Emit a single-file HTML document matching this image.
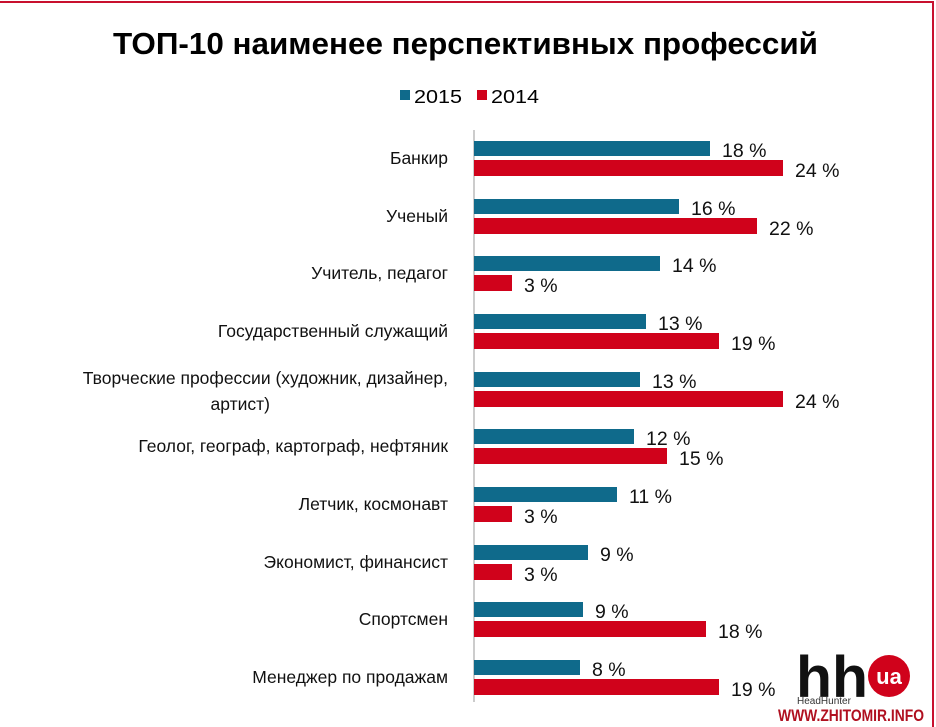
<!DOCTYPE html>
<html><head><meta charset="utf-8"><style>
body{margin:0;background:#fff}
svg{display:block}
text{font-family:"Liberation Sans","DejaVu Sans",sans-serif}
</style></head><body>
<svg width="936" height="727" viewBox="0 0 936 727" xmlns="http://www.w3.org/2000/svg">
<rect width="936" height="727" fill="#fff"/>
<line x1="0" y1="2" x2="934" y2="2" stroke="#c8102e" stroke-width="2"/>
<line x1="933" y1="2" x2="933" y2="727" stroke="#c8102e" stroke-width="2"/>
<text x="113" y="54" font-size="31" font-weight="bold" textLength="705" lengthAdjust="spacingAndGlyphs" fill="#000">ТОП-10 наименее перспективных профессий</text>
<rect x="400" y="90" width="10" height="10" fill="#0f6a8b"/>
<text x="414" y="103" font-size="18" fill="#000" textLength="48" lengthAdjust="spacingAndGlyphs">2015</text>
<rect x="477" y="90" width="10" height="10" fill="#d0021b"/>
<text x="491" y="103" font-size="18" fill="#000" textLength="48" lengthAdjust="spacingAndGlyphs">2014</text>
<line x1="474" y1="130" x2="474" y2="702" stroke="#999" stroke-width="1"/>
<g font-size="17.5" fill="#111" text-anchor="end">
<text x="448" y="164">Банкир</text>
<text x="448" y="222">Ученый</text>
<text x="448" y="279">Учитель, педагог</text>
<text x="448" y="337">Государственный служащий</text>
<text x="448" y="384">Творческие профессии (художник, дизайнер,</text>
<text x="270" y="410">артист)</text>
<text x="448" y="452">Геолог, географ, картограф, нефтяник</text>
<text x="448" y="510">Летчик, космонавт</text>
<text x="448" y="568">Экономист, финансист</text>
<text x="448" y="625">Спортсмен</text>
<text x="448" y="683">Менеджер по продажам</text>
</g>
<g font-size="19.5" fill="#111">
<rect x="474" y="141" width="236" height="15" fill="#0f6a8b"/><rect x="474" y="160" width="309" height="16" fill="#d0021b"/>
<text x="722" y="157">18 %</text><text x="795" y="177">24 %</text>
<rect x="474" y="199" width="205" height="15" fill="#0f6a8b"/><rect x="474" y="218" width="283" height="16" fill="#d0021b"/>
<text x="691" y="215">16 %</text><text x="769" y="235">22 %</text>
<rect x="474" y="256" width="186" height="15" fill="#0f6a8b"/><rect x="474" y="275" width="38" height="16" fill="#d0021b"/>
<text x="672" y="272">14 %</text><text x="524" y="292">3 %</text>
<rect x="474" y="314" width="172" height="15" fill="#0f6a8b"/><rect x="474" y="333" width="245" height="16" fill="#d0021b"/>
<text x="658" y="330">13 %</text><text x="731" y="350">19 %</text>
<rect x="474" y="372" width="166" height="15" fill="#0f6a8b"/><rect x="474" y="391" width="309" height="16" fill="#d0021b"/>
<text x="652" y="388">13 %</text><text x="795" y="408">24 %</text>
<rect x="474" y="429" width="160" height="15" fill="#0f6a8b"/><rect x="474" y="448" width="193" height="16" fill="#d0021b"/>
<text x="646" y="445">12 %</text><text x="679" y="465">15 %</text>
<rect x="474" y="487" width="143" height="15" fill="#0f6a8b"/><rect x="474" y="506" width="38" height="16" fill="#d0021b"/>
<text x="629" y="503">11 %</text><text x="524" y="523">3 %</text>
<rect x="474" y="545" width="114" height="15" fill="#0f6a8b"/><rect x="474" y="564" width="38" height="16" fill="#d0021b"/>
<text x="600" y="561">9 %</text><text x="524" y="581">3 %</text>
<rect x="474" y="602" width="109" height="15" fill="#0f6a8b"/><rect x="474" y="621" width="232" height="16" fill="#d0021b"/>
<text x="595" y="618">9 %</text><text x="718" y="638">18 %</text>
<rect x="474" y="660" width="106" height="15" fill="#0f6a8b"/><rect x="474" y="679" width="245" height="16" fill="#d0021b"/>
<text x="592" y="676">8 %</text><text x="731" y="696">19 %</text>
</g>
<text x="796" y="697" font-size="58" font-weight="bold" fill="#111" textLength="72" lengthAdjust="spacingAndGlyphs">hh</text>
<circle cx="889" cy="676" r="21" fill="#d0021b"/>
<text x="889" y="684" font-size="22" font-weight="bold" fill="#fff" text-anchor="middle">ua</text>
<text x="797" y="704" font-size="10" fill="#333">HeadHunter</text>
<text x="778" y="721" font-size="17" font-weight="bold" fill="#b01020" textLength="146" lengthAdjust="spacingAndGlyphs">WWW.ZHITOMIR.INFO</text>
</svg>
</body></html>
